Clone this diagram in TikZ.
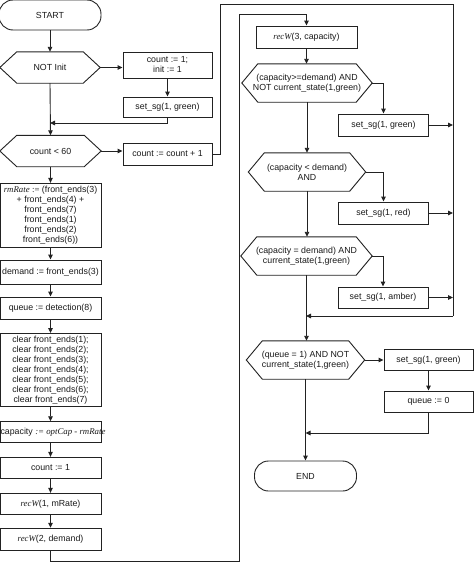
\documentclass[tikz,border=0pt]{standalone}
\usepackage{fontspec}
\setmainfont{Liberation Sans}
\newfontfamily\tms{Liberation Serif}
\usetikzlibrary{arrows.meta,calc}
\newcommand{\serit}[1]{{\tms\itshape #1}}
\newcommand{\hexnode}[7]{%
  \node[hexa, minimum width=#4pt, minimum height=#5pt] (#1) at (#2,#3) {#7};
  \draw[ln] (#1.west) -- ([xshift=#6pt]#1.north west) -- ([xshift=-#6pt]#1.north east)
    -- (#1.east) -- ([xshift=-#6pt]#1.south east) -- ([xshift=#6pt]#1.south west) -- cycle;
}
\definecolor{lc}{HTML}{222222}
\definecolor{tc}{HTML}{1A1A1A}
\tikzset{
  txt/.style={inner sep=0pt, align=center, text=tc,
    font=\fontsize{8.8}{10}\selectfont},
  box/.style={txt, draw=lc, line width=0.9pt, rectangle},
  term/.style={box, rounded corners=14pt},
  hexa/.style={txt, rectangle},
  ln/.style={draw=lc, line width=0.9pt},
  arr/.style={ln, -{Triangle[length=5pt,width=4.5pt]}},
}
\begin{document}
\begin{tikzpicture}[x=1pt,y=-1pt]
\useasboundingbox[fill=white] (0,0) rectangle (474,562);

% ---- left column ----
\node[term, minimum width=102pt, minimum height=30pt] (start) at (50,15) {START};
\hexnode{notinit}{50}{67.5}{100}{31}{17}{NOT Init}
\node[box, minimum width=89pt, minimum height=26pt] (b1) at (167.5,65) {count := 1;\\init := 1};
\node[box, minimum width=89pt, minimum height=20pt] (b2) at (167.5,107) {set\_sg(1, green)};
\hexnode{c60}{50.5}{151}{101}{31}{17}{count {\textless} 60}
\node[box, minimum width=89pt, minimum height=22pt] (cinc) at (167.5,154) {count := count + 1};
\node[box, minimum width=101pt, minimum height=64pt] (rm) at (50.5,215.3)
  {\serit{rmRate} {\tms :=} (front\_ends(3)\\+ front\_ends(4) +\\front\_ends(7)\\front\_ends(1)\\front\_ends(2)\\front\_ends(6))};
\node[box, minimum width=101pt, minimum height=24pt] (dem) at (50.5,272) {demand := front\_ends(3)};
\node[box, minimum width=101pt, minimum height=22pt] (que) at (50.5,308) {queue := detection(8)};
\node[box, minimum width=101pt, minimum height=73pt] (clr) at (50.5,370)
  {clear front\_ends(1);\\clear front\_ends(2);\\clear front\_ends(3);\\clear front\_ends(4);\\clear front\_ends(5);\\clear front\_ends(6);\\clear front\_ends(7)};
\node[box, minimum width=101pt, minimum height=21pt] (cap) at (50.5,432.2)
  {\makebox[0pt]{\hspace{5pt}capacity \serit{:= optCap - rmRate}}};
\node[box, minimum width=101pt, minimum height=21pt] (cnt1) at (50.5,467.8) {count := 1};
\node[box, minimum width=101pt, minimum height=21pt] (rw1) at (50.5,503.8) {\serit{recW}(1, mRate)};
\node[box, minimum width=101pt, minimum height=22pt] (rw2) at (50.5,539.2) {\serit{recW}(2, demand)};

% ---- right column ----
\node[box, minimum width=101pt, minimum height=22pt] (rw3) at (306.5,37) {\serit{recW}(3, capacity)};
\hexnode{h1}{307}{83}{130}{38}{16}{(capacity>=demand) AND\\NOT current\_state(1,green)}
\node[box, minimum width=90pt, minimum height=22pt] (g1) at (383.5,125) {set\_sg(1, green)};
\hexnode{h2}{307}{172}{117}{38}{16}{(capacity {\textless} demand)\\AND}
\node[box, minimum width=90pt, minimum height=22pt] (r1) at (383.5,213) {set\_sg(1, red)};
\hexnode{h3}{306.5}{256}{131}{38}{16}{(capacity = demand) AND\\current\_state(1,green)}
\node[box, minimum width=90pt, minimum height=21pt] (a1) at (383,297.5) {set\_sg(1, amber)};
\hexnode{h4}{305.5}{360}{118}{38}{16}{(queue = 1) AND NOT\\current\_state(1,green)}
\node[box, minimum width=89pt, minimum height=21pt] (g2) at (428.5,360) {set\_sg(1, green)};
\node[box, minimum width=89pt, minimum height=21pt] (q0) at (428.5,401.5) {queue := 0};
\node[term, minimum width=102pt, minimum height=30pt] (end) at (305.5,476) {END};

% ---- helper coordinates ----
\coordinate (m1) at (50,123);
\coordinate (m2) at (306,316);
\coordinate (m3) at (305.5,433);
\coordinate (ra) at (220,4);
\coordinate (rb) at (453,4);
\coordinate (la) at (239,561.5);
\coordinate (lb) at (239,14);
\coordinate (cg1) at (453,125);
\coordinate (cr1) at (453,213);
\coordinate (ca1) at (453,297.5);

% ---- connectors left ----
\draw[arr] (start.south) -- (notinit.north);
\draw[arr] (notinit.east) -- (notinit.east -| b1.west);
\draw[arr] (b1.south) -- (b2.north);
\draw[arr] (b2.south) |- (m1);
\draw[arr] (notinit.south) -- (c60.north);
\draw[arr] (c60.east) -- (c60.east -| cinc.west);
\draw[arr] (c60.south) -- (rm.north);
\draw[arr] (rm.south) -- (dem.north);
\draw[arr] (dem.south) -- (que.north);
\draw[arr] (que.south) -- (clr.north);
\draw[arr] (clr.south) -- (cap.north);
\draw[arr] (cap.south) -- (cnt1.north);
\draw[arr] (cnt1.south) -- (rw1.north);
\draw[arr] (rw1.south) -- (rw2.north);
\draw[ln] (cinc.east) -- (cinc.east -| ra) -- (ra) -- (rb) -- (rb |- m2);
\draw[arr] (rb |- m2) -- (m2);
\draw[arr] (rw2.south) -- (rw2.south |- la) -- (la) -- (lb) -| (rw3.north);

% ---- connectors right ----
\draw[arr] (rw3.south) -- (rw3.south |- h1.north);
\draw[arr] (h1.east) -| (g1.north);
\draw[arr] (g1.east) -- (cg1);
\draw[arr] (h1.south) -- (h2.north);
\draw[arr] (h2.east) -| (r1.north);
\draw[arr] (r1.east) -- (cr1);
\draw[arr] (h2.south) -- (h2.south |- h3.north);
\draw[arr] (h3.east) -| (a1.north);
\draw[arr] (a1.east) -- (ca1);
\draw[arr] (h3.south) -- (h3.south |- h4.north);
\draw[arr] (h4.east) -- (g2.west);
\draw[arr] (g2.south) -- (q0.north);
\draw[arr] (q0.south) |- (m3);
\draw[arr] (h4.south) -- (end.north);
\end{tikzpicture}
\end{document}
